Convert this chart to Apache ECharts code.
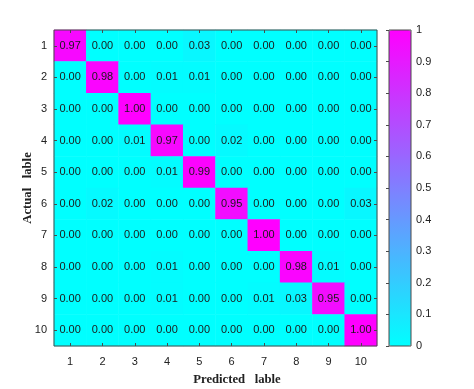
<!DOCTYPE html>
<html><head><meta charset="utf-8">
<script src="https://cdn.jsdelivr.net/npm/echarts@6/dist/echarts.min.js"></script>
<style>html,body{margin:0;padding:0;background:#fff}#c{width:474px;height:389px}</style>
</head><body><div id="c"></div>
<script>
const predicted = ['1','2','3','4','5','6','7','8','9','10'];
const actual = ['1','2','3','4','5','6','7','8','9','10'];
const row1 = [0.97,0.00,0.00,0.00,0.03,0.00,0.00,0.00,0.00,0.00];
const row2 = [0.00,0.98,0.00,0.01,0.01,0.00,0.00,0.00,0.00,0.00];
const row3 = [0.00,0.00,1.00,0.00,0.00,0.00,0.00,0.00,0.00,0.00];
const row4 = [0.00,0.00,0.01,0.97,0.00,0.02,0.00,0.00,0.00,0.00];
const row5 = [0.00,0.00,0.00,0.01,0.99,0.00,0.00,0.00,0.00,0.00];
const row6 = [0.00,0.02,0.00,0.00,0.00,0.95,0.00,0.00,0.00,0.03];
const row7 = [0.00,0.00,0.00,0.00,0.00,0.00,1.00,0.00,0.00,0.00];
const row8 = [0.00,0.00,0.00,0.01,0.00,0.00,0.00,0.98,0.01,0.00];
const row9 = [0.00,0.00,0.00,0.01,0.00,0.00,0.01,0.03,0.95,0.00];
const row10 = [0.00,0.00,0.00,0.00,0.00,0.00,0.00,0.00,0.00,1.00];
const rows = [row1,row2,row3,row4,row5,row6,row7,row8,row9,row10];
const colorbarTicks = [0,0.1,0.2,0.3,0.4,0.5,0.6,0.7,0.8,0.9,1];
const xTitle = 'Predicted   lable';
const yTitle = 'Actual   lable';

const data = [];
rows.forEach((r, i) => r.forEach((v, j) => data.push([j, i, v])));

const axisFont = {fontFamily: 'Liberation Sans, Arial, sans-serif', fontSize: 11, color: '#222'};
const titleFontFamily = 'Liberation Serif, Times New Roman, serif';
const lineStyle = {color: '#4a4a4a', width: 1};

const chart = echarts.init(document.getElementById('c'));
chart.setOption({
  animation: false,
  title: {
    text: xTitle, left: 'center', top: 373, padding: 0,
    textStyle: {fontFamily: titleFontFamily, fontSize: 12.7, fontWeight: 'bold', color: '#222'}
  },
  graphic: [{
    type: 'text', x: 28, y: 188, rotation: Math.PI / 2,
    style: {text: yTitle, align: 'center', verticalAlign: 'middle',
            font: 'bold 12.7px ' + titleFontFamily, fill: '#222'}
  }],
  grid: [
    {left: 54, top: 30, width: 323, height: 316, show: true, borderColor: '#4a4a4a', borderWidth: 1, backgroundColor: 'transparent', z: 5},
    {left: 389, top: 30, width: 22, height: 316, show: true, borderColor: '#4a4a4a', borderWidth: 1, backgroundColor: 'transparent', z: 5}
  ],
  xAxis: [
    {type: 'category', gridIndex: 0, data: predicted, position: 'bottom',
     axisLine: {show: false}, axisTick: {show: true, inside: true, alignWithLabel: true, length: 3, lineStyle: lineStyle},
     axisLabel: Object.assign({margin: 10}, axisFont), splitLine: {show: false}, z: 10},
    {type: 'category', gridIndex: 0, data: predicted, position: 'top',
     axisLine: {show: false}, axisTick: {show: true, inside: true, alignWithLabel: true, length: 3, lineStyle: lineStyle},
     axisLabel: {show: false}, splitLine: {show: false}, z: 10},
    {type: 'value', gridIndex: 1, show: false, min: 0, max: 1}
  ],
  yAxis: [
    {type: 'category', gridIndex: 0, data: actual, inverse: true, position: 'left',
     axisLine: {show: false}, axisTick: {show: true, inside: true, alignWithLabel: true, length: 3, lineStyle: lineStyle},
     axisLabel: Object.assign({margin: 7}, axisFont), splitLine: {show: false}, z: 10},
    {type: 'category', gridIndex: 0, data: actual, inverse: true, position: 'right',
     axisLine: {show: false}, axisTick: {show: true, inside: true, alignWithLabel: true, length: 3, lineStyle: lineStyle},
     axisLabel: {show: false}, splitLine: {show: false}, z: 10},
    {type: 'value', gridIndex: 1, position: 'right', min: 0, max: 1, interval: 0.1,
     axisLine: {show: false}, axisTick: {show: true, inside: true, length: 3, lineStyle: lineStyle},
     axisLabel: Object.assign({margin: 5, formatter: v => colorbarTicks.includes(Math.round(v*10)/10) ? String(Math.round(v*10)/10) : ''}, axisFont),
     splitLine: {show: false}, z: 10}
  ],
  visualMap: {
    type: 'continuous', min: 0, max: 1, seriesIndex: 0, calculable: false,
    orient: 'vertical', left: 389, top: 30, itemWidth: 22, itemHeight: 316, padding: 0,
    text: null, showLabel: false, hoverLink: false,
    inRange: {color: ['#00ffff', '#ff00ff']}
  },
  series: [{
    type: 'heatmap', xAxisIndex: 0, yAxisIndex: 0, data: data,
    label: {show: true, formatter: p => p.value[2].toFixed(2), fontFamily: 'Liberation Sans, Arial, sans-serif', fontSize: 11, color: '#1a1a1a'},
    itemStyle: {borderWidth: 0}
  }]
});
</script></body></html>
